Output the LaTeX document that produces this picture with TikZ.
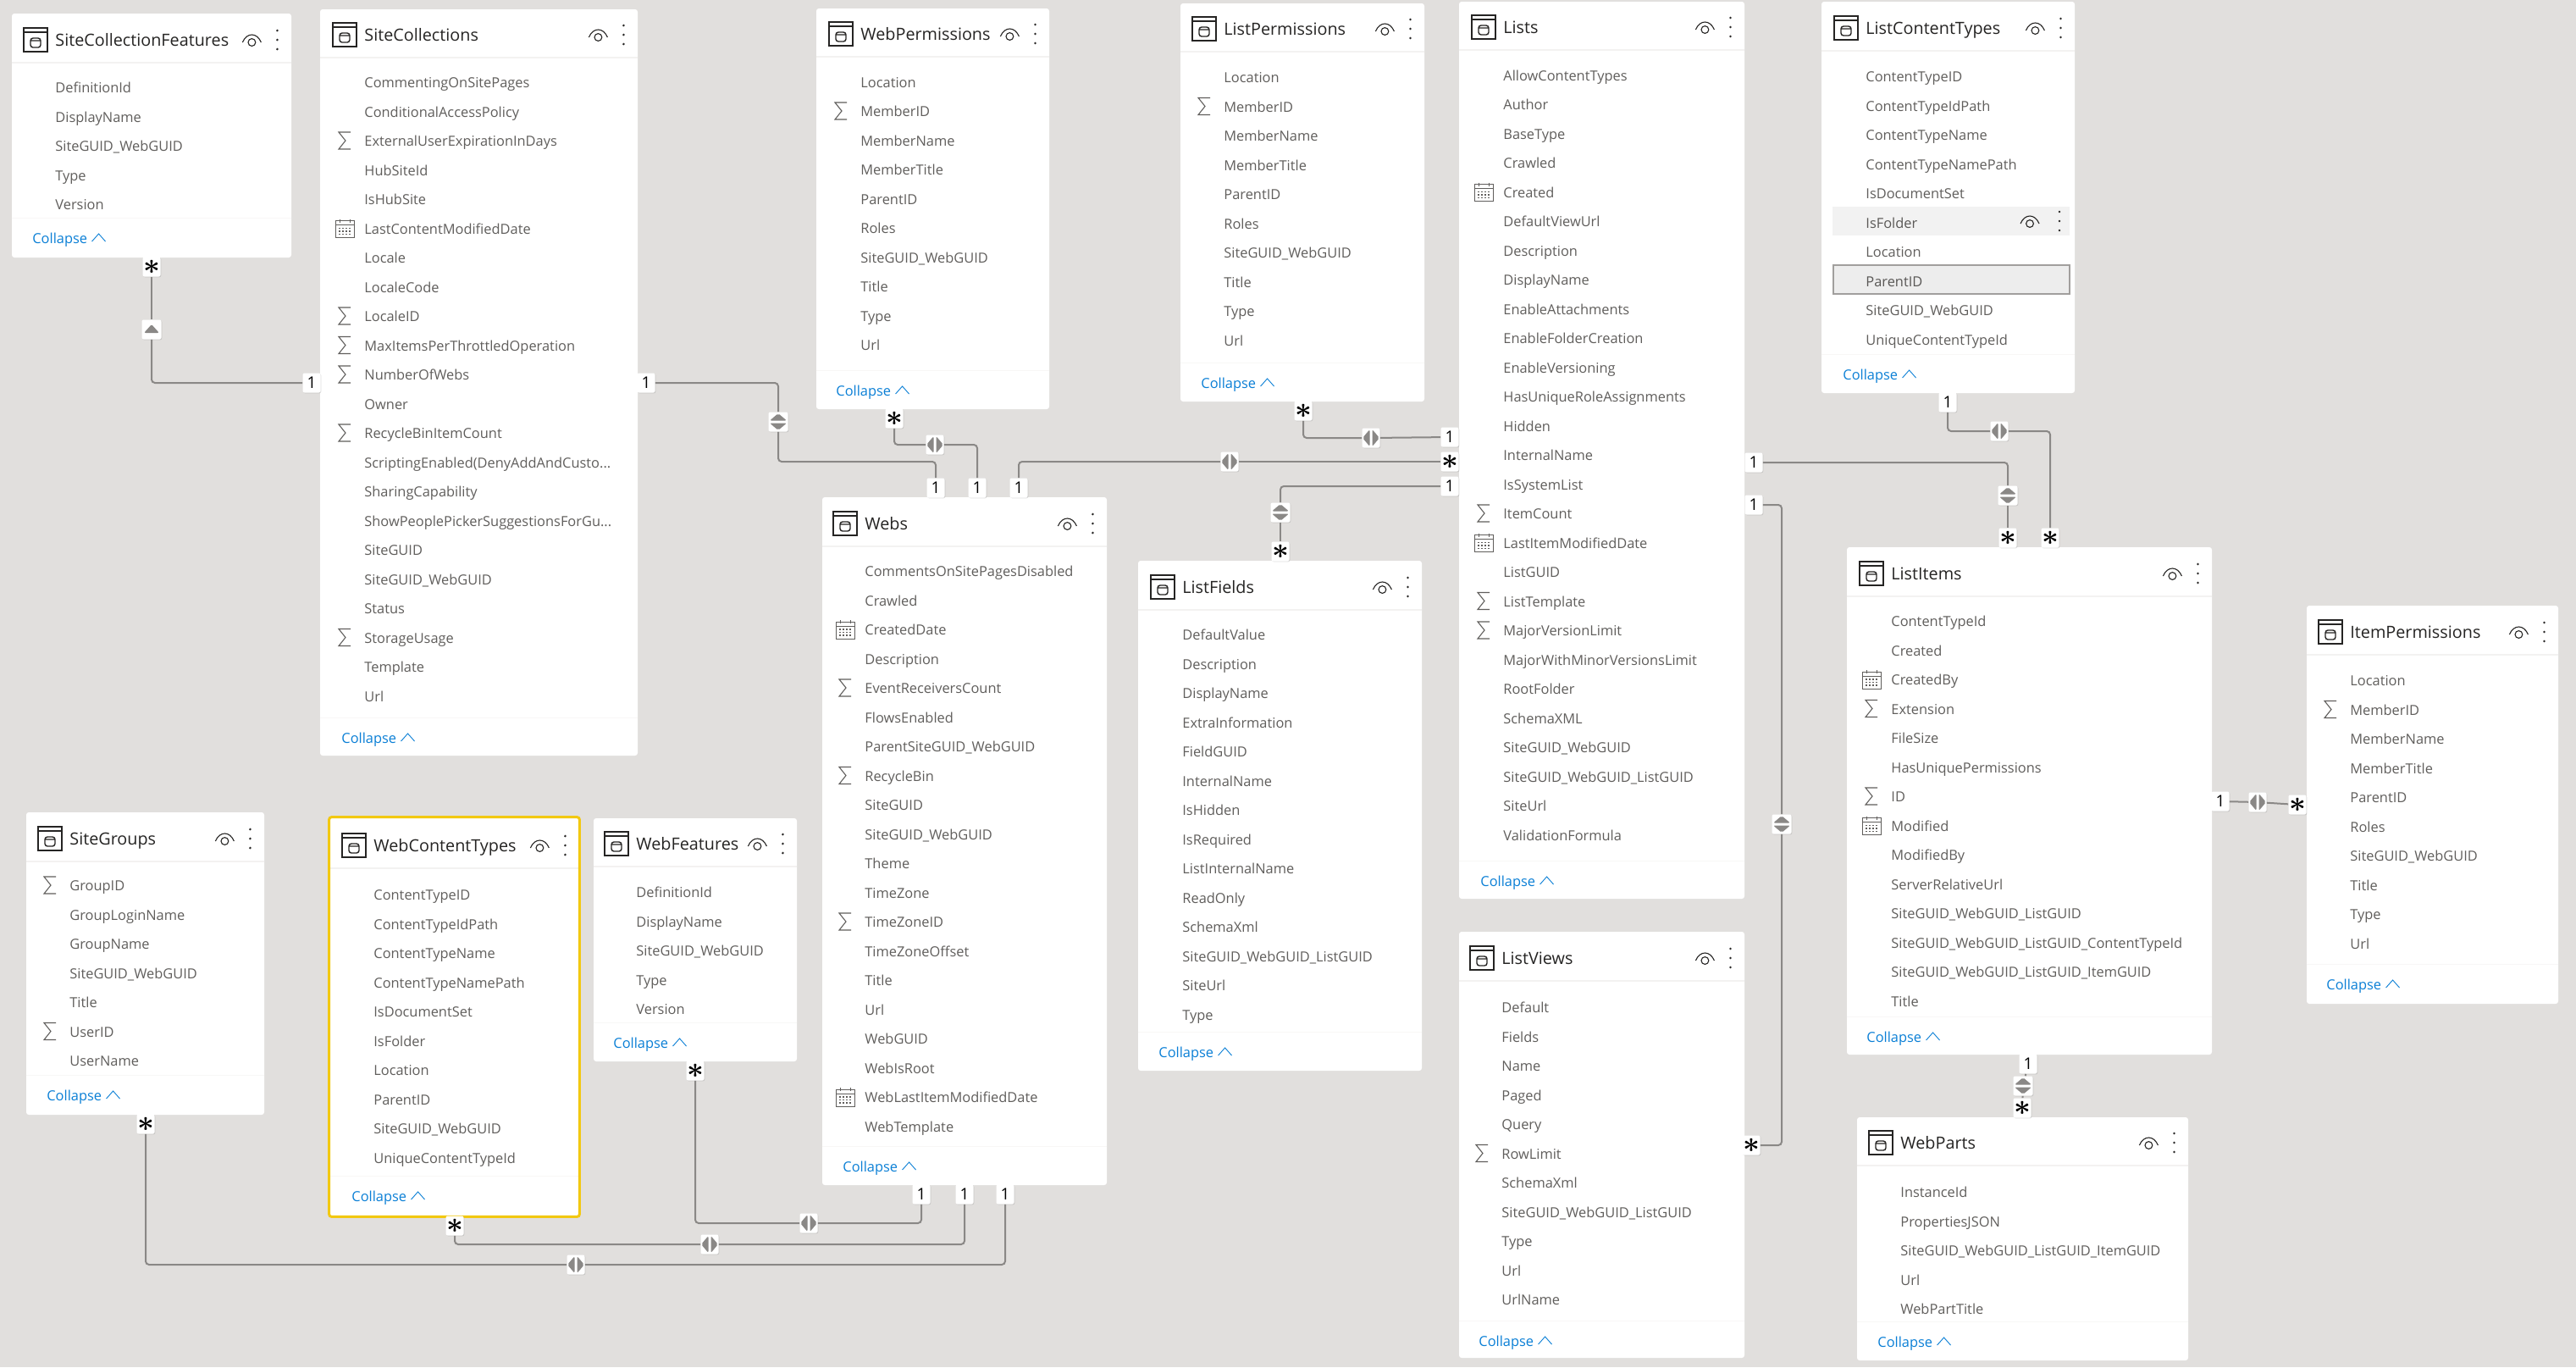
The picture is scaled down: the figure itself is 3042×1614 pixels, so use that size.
\documentclass[tikz,border=0pt]{standalone}
\usepackage{fontspec}
\setmainfont{Open Sans}
\usetikzlibrary{fit,shadows}
\definecolor{canvas}{HTML}{E1DFDD}
\definecolor{rowgrey}{HTML}{605E5C}
\definecolor{inkgrey}{HTML}{252423}
\definecolor{rulegrey}{HTML}{F3F2F1}
\definecolor{footgrey}{HTML}{F8F7F6}
\definecolor{linkblue}{HTML}{0A7FD6}
\definecolor{relgrey}{HTML}{8A8886}
\definecolor{keygrey}{HTML}{A19F9D}
\definecolor{pickyellow}{HTML}{F2C811}
\newcommand{\cutoff}{...}
\tikzset{
  tablebox/.style={rectangle,fill=white,inner sep=0pt,rounded corners=1.5pt},
  picked/.style={draw=pickyellow,line width=1.5pt},
  titletext/.style={anchor=west,inner sep=0pt,text=inkgrey,font=\fontsize{9.9}{12}\selectfont,text height=8.5pt,text depth=1pt},
  rowtext/.style={anchor=west,inner sep=0pt,text=rowgrey,font=\fontsize{8.2}{10}\selectfont,text height=7.5pt,text depth=1pt},
  collapsetext/.style={anchor=west,inner sep=0pt,text=linkblue,font=\fontsize{8.2}{10}\selectfont,text height=7.5pt,text depth=1pt},
  hoverrow/.style={rectangle,inner sep=0pt,fill=black,fill opacity=.05},
  keyrow/.style={rectangle,inner sep=0pt,fill=black,fill opacity=.07,draw=keygrey,draw opacity=1,line width=.6pt},
  rule/.style={draw=rulegrey,line width=1pt},
  footline/.style={draw=footgrey,line width=.5pt},
  rel/.style={draw=relgrey,line width=1pt,rounded corners=2pt},
  card/.style={rectangle,fill=white,rounded corners=1pt,inner sep=0pt,minimum width=10.5pt,minimum height=11.5pt,
    drop shadow={opacity=.25,shadow xshift=.4pt,shadow yshift=-.4pt}},
  one/.style={card,font=\fontsize{9.5}{10}\selectfont,text=black},
  many/.style={card,font=\fontsize{17}{10}\selectfont\boldmath,text=black},
  dirh/.style={card,minimum height=11.5pt,path picture={
    \fill[relgrey,shift={(path picture bounding box.center)}] (-1.5,-10) -- (-1.5,10) -- (-10,0) -- cycle (1.5,-10) -- (1.5,10) -- (10,0) -- cycle;}},
  dirv/.style={card,minimum width=11.5pt,path picture={
    \fill[relgrey,shift={(path picture bounding box.center)}] (-10,-1.5) -- (10,-1.5) -- (0,-10) -- cycle (-10,1.5) -- (10,1.5) -- (0,10) -- cycle;}},
  diru/.style={card,minimum width=11.5pt,path picture={
    \fill[relgrey,shift={(path picture bounding box.center)}] (-9,4) -- (9,4) -- (0,-6) -- cycle;}},
  rowiconn/.pic={},
  rowicons/.pic={\draw[rowgrey,line width=.55pt] (7,-10) -- (-7,-10) -- (1,0) -- (-7,10) -- (7,10);},
  rowicond/.pic={
    \draw[rowgrey,line width=.5pt] (-11,-9) rectangle (11,11) (-11,-4) -- (11,-4) (-6,-11) -- (-6,-7) (6,-11) -- (6,-7);
    \foreach \dx in {-6,-2,2,6} \foreach \dy in {0,3.5,7} \fill[rowgrey] (\dx-.7,\dy-.7) rectangle (\dx+.7,\dy+.7);},
  tableicon/.pic={
    \draw[inkgrey,line width=.8pt] (-14,-14) rectangle (14,14);
    \draw[inkgrey,line width=1pt] (-14,-9) -- (14,-9);
    \draw[inkgrey,line width=.7pt,rounded corners=1.5pt] (-6,-2) -- (-6,9) -- (6,9) -- (6,-2) -- cycle (-6,1) -- (6,1);},
  eyeicon/.pic={
    \draw[inkgrey,line width=.55pt] (-11,3) .. controls (-6,-9) and (6,-9) .. (11,3);
    \draw[inkgrey,line width=.55pt] (0,3) circle [radius=2.2pt];},
  dotsicon/.pic={\foreach \dy in {-11,0,11} \fill[inkgrey] (0,\dy) circle [radius=.7pt];},
  chevron/.pic={\draw[linkblue,line width=.45pt] (5,4) -- (13,-5) -- (21,4);}
}
% #1 name, #2 corners, #3 text x, #4 title y, #5 first row y, #6 collapse x, #7 collapse y, #8 rows
\newcommand{\dbtable}[8]{
  \node [tablebox,fit={#2}] (#1) {};
  \coordinate (#1head) at (#1.north east |- 0,#4);
  \pgfmathsetmacro\headrule{#4+27}
  \pgfmathsetmacro\footrule{#7-24}
  \draw [rule] (#1.west |- 0,\headrule) -- (#1.east |- 0,\headrule);
  \draw [footline] (#1.west |- 0,\footrule) -- (#1.east |- 0,\footrule);
  \pic at (#3-23,#4) {tableicon};
  \node [titletext] (#1title) at (#3,#4) {#1};
  \pic [shift={(-47,0)}] at (#1head) {eyeicon};
  \pic [shift={(-17,0)}] at (#1head) {dotsicon};
  \foreach \k/\t [count=\i] in {#8} {
    \pgfmathsetmacro\rowy{#5+(\i-1)*34.5}
    \pic at (#3-23,\rowy) {rowicon\k};
    \node [rowtext] (#1row\i) at (#3,\rowy) {\t};
  }
  \node [collapsetext] (#1collapse) at (#6,#7) {Collapse};
  \pic at (#1collapse.east) {chevron};
}
\begin{document}
\begin{tikzpicture}[x=.5pt,y=-.5pt]
\fill [canvas] (0,0) rectangle (3042,1614);
\useasboundingbox (0,0) rectangle (3042,1614);

\dbtable{SiteCollectionFeatures}{(14,16) (344,304)}{65}{47}{103}{38}{281}
  {n/DefinitionId,n/DisplayName,n/SiteGUID\_WebGUID,n/Type,n/Version}
\dbtable{SiteCollections}{(378,11) (753,892)}{430}{41}{97}{403}{871}
  {n/CommentingOnSitePages,n/ConditionalAccessPolicy,s/ExternalUserExpirationInDays,n/HubSiteId,n/IsHubSite,
   d/LastContentModifiedDate,n/Locale,n/LocaleCode,s/LocaleID,s/MaxItemsPerThrottledOperation,s/NumberOfWebs,n/Owner,
   s/RecycleBinItemCount,n/ScriptingEnabled(DenyAddAndCusto\cutoff,n/SharingCapability,n/ShowPeoplePickerSuggestionsForGu\cutoff,
   n/SiteGUID,n/SiteGUID\_WebGUID,n/Status,s/StorageUsage,n/Template,n/Url}
\dbtable{WebPermissions}{(964,10) (1239,483)}{1016}{40}{96.5}{987}{461}
  {n/Location,s/MemberID,n/MemberName,n/MemberTitle,n/ParentID,n/Roles,n/SiteGUID\_WebGUID,n/Title,n/Type,n/Url}
\dbtable{ListPermissions}{(1394,4) (1682,474)}{1445}{34}{91}{1418}{452}
  {n/Location,s/MemberID,n/MemberName,n/MemberTitle,n/ParentID,n/Roles,n/SiteGUID\_WebGUID,n/Title,n/Type,n/Url}
\dbtable{Lists}{(1723,2) (2060,1061)}{1775}{32}{88.5}{1748}{1040}
  {n/AllowContentTypes,n/Author,n/BaseType,n/Crawled,d/Created,n/DefaultViewUrl,n/Description,n/DisplayName,
   n/EnableAttachments,n/EnableFolderCreation,n/EnableVersioning,n/HasUniqueRoleAssignments,n/Hidden,n/InternalName,
   n/IsSystemList,s/ItemCount,d/LastItemModifiedDate,n/ListGUID,s/ListTemplate,s/MajorVersionLimit,
   n/MajorWithMinorVersionsLimit,n/RootFolder,n/SchemaXML,n/SiteGUID\_WebGUID,n/SiteGUID\_WebGUID\_ListGUID,n/SiteUrl,n/ValidationFormula}
\dbtable{ListContentTypes}{(2151,2) (2450,464)}{2203}{33}{90}{2176}{442}
  {n/ContentTypeID,n/ContentTypeIdPath,n/ContentTypeName,n/ContentTypeNamePath,n/IsDocumentSet,n/IsFolder,n/Location,
   n/ParentID,n/SiteGUID\_WebGUID,n/UniqueContentTypeId}
\node [hoverrow,fit={(2164,244) (2444,278)}] (hoverIsFolder) {};
\node [keyrow,fit={(2165,313) (2444,347)}] (keyParentID) {};
\pic at (2397,261) {eyeicon};
\pic at (2432,261) {dotsicon};
\dbtable{Webs}{(971,587) (1307,1399)}{1021}{618}{674}{995}{1377}
  {n/CommentsOnSitePagesDisabled,n/Crawled,d/CreatedDate,n/Description,s/EventReceiversCount,n/FlowsEnabled,
   n/ParentSiteGUID\_WebGUID,s/RecycleBin,n/SiteGUID,n/SiteGUID\_WebGUID,n/Theme,n/TimeZone,s/TimeZoneID,n/TimeZoneOffset,
   n/Title,n/Url,n/WebGUID,n/WebIsRoot,d/WebLastItemModifiedDate,n/WebTemplate}
\dbtable{ListFields}{(1344,662) (1679,1264)}{1396}{693}{749}{1368}{1242}
  {n/DefaultValue,n/Description,n/DisplayName,n/ExtraInformation,n/FieldGUID,n/InternalName,n/IsHidden,n/IsRequired,
   n/ListInternalName,n/ReadOnly,n/SchemaXml,n/SiteGUID\_WebGUID\_ListGUID,n/SiteUrl,n/Type}
\dbtable{ListViews}{(1723,1100) (2060,1603)}{1773}{1131}{1189}{1746}{1583}
  {n/Default,n/Fields,n/Name,n/Paged,n/Query,s/RowLimit,n/SchemaXml,n/SiteGUID\_WebGUID\_ListGUID,n/Type,n/Url,n/UrlName}
\dbtable{ListItems}{(2181,646) (2612,1245)}{2233}{677}{733}{2204}{1224}
  {n/ContentTypeId,n/Created,d/CreatedBy,s/Extension,n/FileSize,n/HasUniquePermissions,s/ID,d/Modified,n/ModifiedBy,
   n/ServerRelativeUrl,n/SiteGUID\_WebGUID\_ListGUID,n/SiteGUID\_WebGUID\_ListGUID\_ContentTypeId,
   n/SiteGUID\_WebGUID\_ListGUID\_ItemGUID,n/Title}
\dbtable{ItemPermissions}{(2724,715) (3021,1185)}{2775}{746}{803}{2747}{1162}
  {n/Location,s/MemberID,n/MemberName,n/MemberTitle,n/ParentID,n/Roles,n/SiteGUID\_WebGUID,n/Title,n/Type,n/Url}
\dbtable{WebParts}{(2193,1319) (2584,1606)}{2244}{1349}{1407}{2217}{1584}
  {n/InstanceId,n/PropertiesJSON,n/SiteGUID\_WebGUID\_ListGUID\_ItemGUID,n/Url,n/WebPartTitle}
\dbtable{SiteGroups}{(31,959) (312,1316)}{82}{990}{1045}{55}{1293}
  {s/GroupID,n/GroupLoginName,n/GroupName,n/SiteGUID\_WebGUID,n/Title,s/UserID,n/UserName}
\dbtable{WebContentTypes}{(389,965) (684,1436)}{441}{998}{1056}{415}{1412}
  {n/ContentTypeID,n/ContentTypeIdPath,n/ContentTypeName,n/ContentTypeNamePath,n/IsDocumentSet,n/IsFolder,n/Location,
   n/ParentID,n/SiteGUID\_WebGUID,n/UniqueContentTypeId}
\draw [picked,rounded corners=1.5pt] (WebContentTypes.north west) rectangle (WebContentTypes.south east);
\dbtable{WebFeatures}{(701,966) (941,1253)}{751}{996}{1053}{724}{1231}
  {n/DefinitionId,n/DisplayName,n/SiteGUID\_WebGUID,n/Type,n/Version}

\node [many] (scfStar) at (179,315) {$\ast$};
\node [diru] (scfDir) at (179,389) {};
\node [one] (scOneL) at (368,452) {1};
\node [one] (scOneR) at (763,452) {1};
\node [dirv] (dirA) at (919,498) {};
\node [many] (wpStar) at (1056,494) {$\ast$};
\node [dirh] (dirB) at (1104,525) {};
\node [one] (websOneA) at (1105,576) {1};
\node [one] (websOneB) at (1154,576) {1};
\node [one] (websOneC) at (1203,576) {1};
\node [dirh] (dirC) at (1452,545) {};
\node [many] (lpStar) at (1539,485) {$\ast$};
\node [dirh] (dirD) at (1619,517) {};
\node [one] (listsOneA) at (1712,516) {1};
\node [many] (listsStar) at (1712,545) {$\ast$};
\node [one] (listsOneB) at (1712,574) {1};
\node [dirv] (dirE) at (1512,605) {};
\node [many] (lfStar) at (1512,651) {$\ast$};
\node [one] (listsOneC) at (2071,546) {1};
\node [one] (listsOneD) at (2071,596) {1};
\node [dirv] (dirF) at (2371,585) {};
\node [many] (liStarA) at (2371,635) {$\ast$};
\node [many] (liStarB) at (2421,635) {$\ast$};
\node [dirh] (dirH) at (2361,509) {};
\node [one] (lctOne) at (2300,475) {1};
\node [dirv] (dirG) at (2104,973) {};
\node [many] (lvStar) at (2068,1352) {$\ast$};
\node [one] (liOneR) at (2622,946) {1};
\node [dirh] (dirJ) at (2666,947) {};
\node [many] (ipStar) at (2713,950) {$\ast$};
\node [one] (liOneB) at (2395,1256) {1};
\node [many] (wpaStar) at (2388,1308) {$\ast$};
\node [dirv] (dirI) at (2389,1282) {};
\node [one] (websOneD) at (1088,1410) {1};
\node [one] (websOneE) at (1139,1410) {1};
\node [one] (websOneF) at (1187,1410) {1};
\node [many] (wfStar) at (821,1264) {$\ast$};
\node [dirh] (dirK) at (955,1444) {};
\node [many] (wctStar) at (537,1447) {$\ast$};
\node [dirh] (dirL) at (838,1469) {};
\node [many] (sgStar) at (172,1327) {$\ast$};
\node [dirh] (dirM) at (680,1493) {};
\coordinate (bendA) at (1105,545);

\draw [rel] (scfStar) -- (scfDir);
\draw [rel] (scfDir) |- (scOneL);
\draw [rel] (scOneR) -| (dirA);
\draw [rel] (dirA) |- (bendA) -- (websOneA);
\draw [rel] (wpStar) |- (dirB);
\draw [rel] (dirB) -| (websOneB);
\draw [rel] (websOneC) |- (dirC);
\draw [rel] (dirC) -- (listsStar);
\draw [rel] (lpStar) |- (dirD);
\draw [rel] (dirD) -- (listsOneA);
\draw [rel] (listsOneB) -| (dirE);
\draw [rel] (dirE) -- (lfStar);
\draw [rel] (listsOneC) -| (dirF);
\draw [rel] (dirF) -- (liStarA);
\draw [rel] (lctOne) |- (dirH);
\draw [rel] (dirH) -| (liStarB);
\draw [rel] (listsOneD) -| (dirG);
\draw [rel] (dirG) |- (lvStar);
\draw [rel] (liOneR) -- (dirJ);
\draw [rel] (dirJ) -- (ipStar);
\draw [rel] (liOneB) -- (dirI);
\draw [rel] (dirI) -- (wpaStar);
\draw [rel] (wfStar) |- (dirK);
\draw [rel] (dirK) -| (websOneD);
\draw [rel] (wctStar) |- (dirL);
\draw [rel] (dirL) -| (websOneE);
\draw [rel] (sgStar) |- (dirM);
\draw [rel] (dirM) -| (websOneF);
\end{tikzpicture}
\end{document}
